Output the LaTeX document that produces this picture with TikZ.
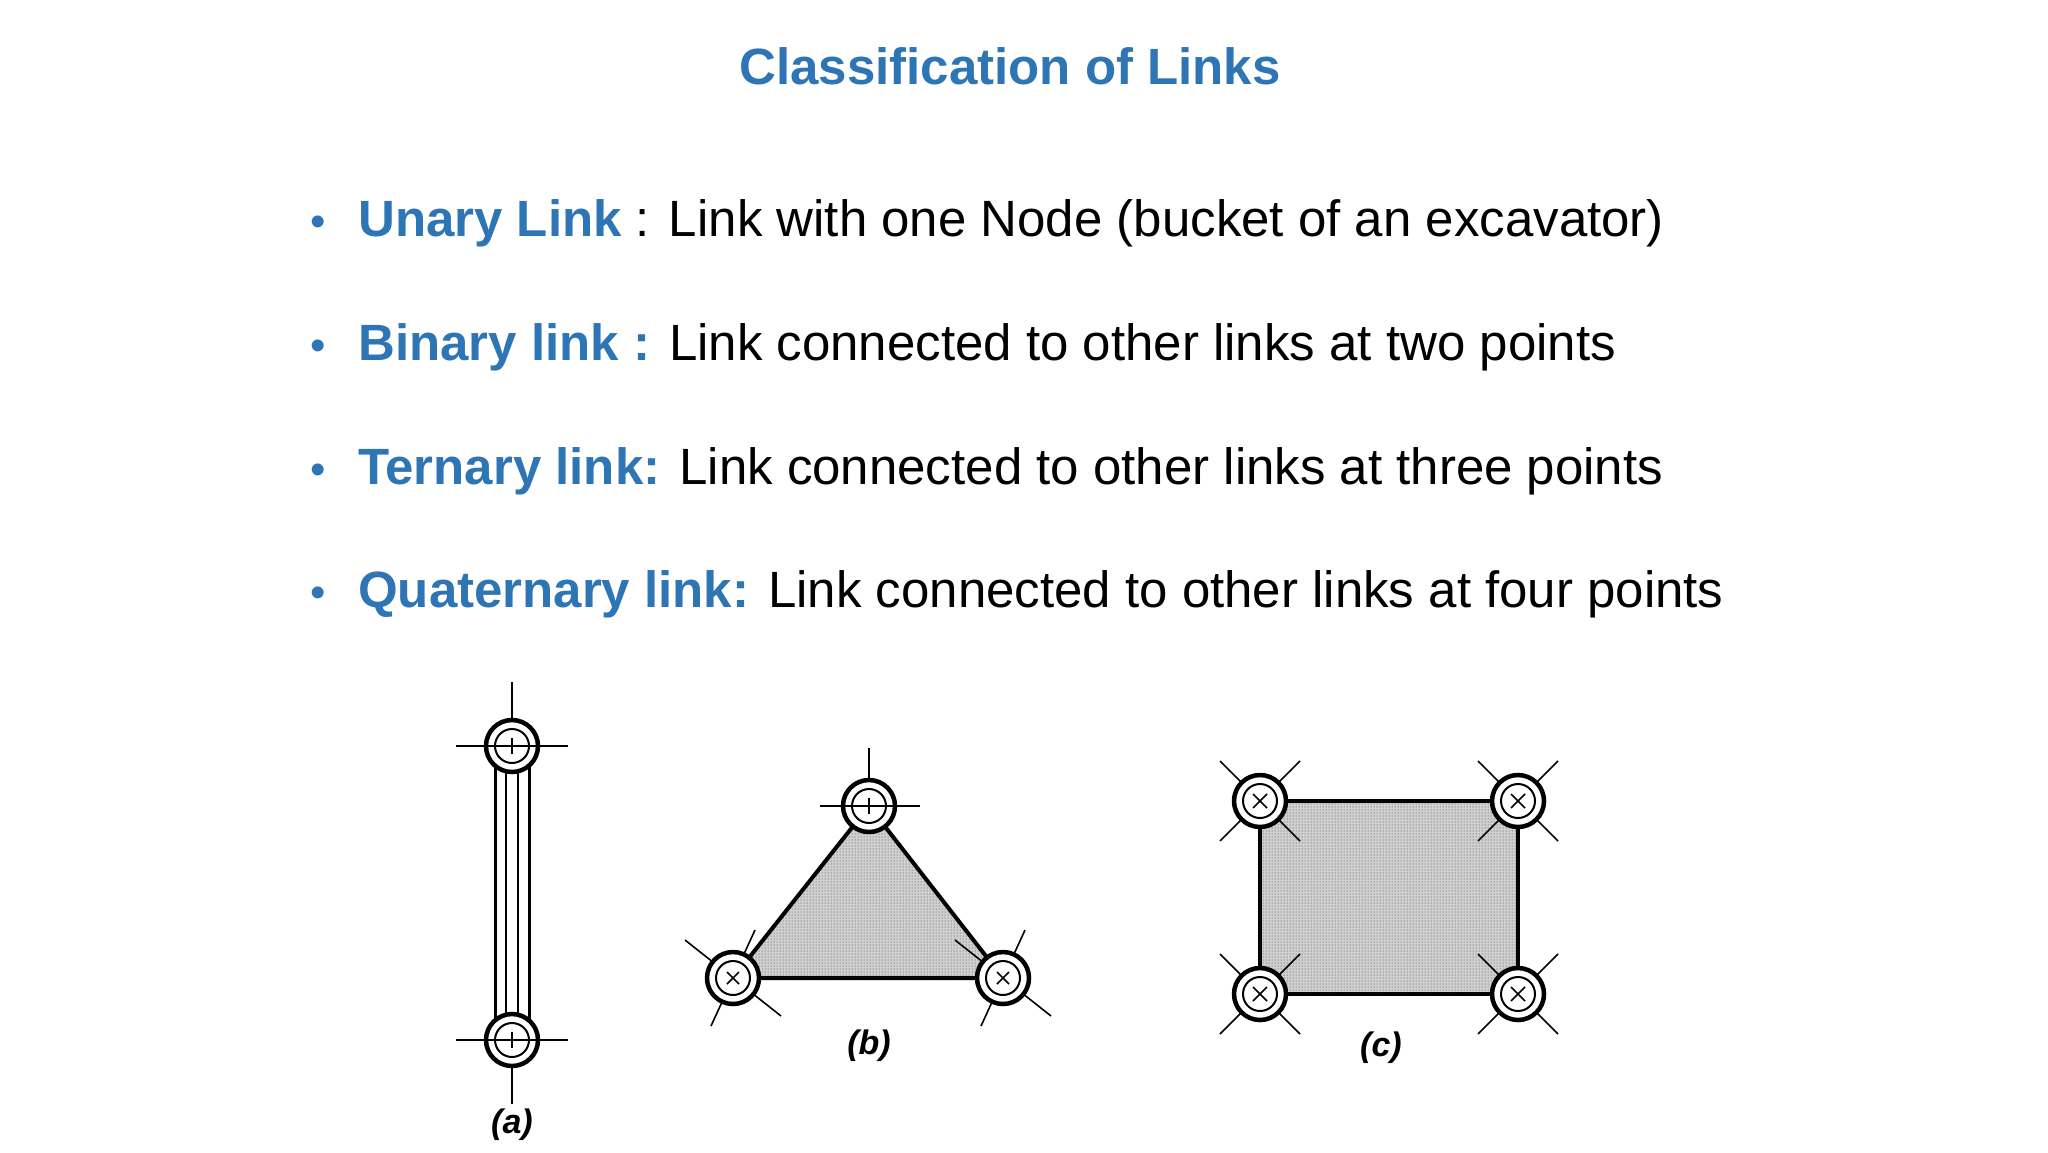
\documentclass[tikz,border=0pt]{standalone}
\usepackage{fontspec}
\setmainfont{Liberation Sans}
\usetikzlibrary{patterns,calc}
\definecolor{tblue}{HTML}{2E75B6}
\begin{document}
\begin{tikzpicture}[x=1pt,y=-1pt,
  joint/.style={draw=black,line width=4.5pt,fill=white,circle,minimum size=52pt,inner sep=0pt},
  jin/.style={draw=black,line width=2pt,circle,minimum size=34pt,inner sep=0pt},
  hair/.style={line width=1.6pt},
  bl/.style={anchor=base west,font=\fontsize{51}{55}\selectfont,inner sep=0pt},
  dot/.style={anchor=base,font=\fontsize{44}{44}\selectfont,text=tblue,inner sep=0pt},
  lab/.style={font=\fontsize{34}{36}\selectfont\bfseries\itshape}]
\useasboundingbox (0,0) rectangle (2048,1152);
\fill[white] (0,0) rectangle (2048,1152);
\node[font=\fontsize{51}{55}\selectfont\bfseries,text=tblue] (title) at (1010,66) {Classification of Links};
\foreach \y/\n in {236/1,360/2,484/3,607/4}{\node[dot] (d\n) at (318,\y) {•};}
\node[bl] (l1) at (358,236) {\textcolor{tblue}{\bfseries Unary Link} : Link with one Node (bucket of an excavator)};
\node[bl] (l2) at (358,360) {\textcolor{tblue}{\bfseries Binary link :} Link connected to other links at two points};
\node[bl] (l3) at (358,484) {\textcolor{tblue}{\bfseries Ternary link:} Link connected to other links at three points};
\node[bl] (l4) at (358,607) {\textcolor{tblue}{\bfseries Quaternary link:} Link connected to other links at four points};
% (a)
\draw[line width=3pt,fill=white] (495,746) rectangle (529,1040);
\draw[line width=1.4pt] (506,746) -- (506,1040) (518,746) -- (518,1040);
\foreach \p/\n in {{(512,746)}/a1,{(512,1040)}/a2}{
  \node[joint] (\n) at \p {}; \node[jin] at \p {};
  \draw[hair] ([xshift=-56pt]\n.center) -- ([xshift=56pt]\n.center) ([yshift=-8pt]\n.center) -- ([yshift=8pt]\n.center);}
\draw[hair] (a1.north) -- ++(0,-36); \draw[hair] (a2.south) -- ++(0,36);
\node[lab] (la) at (512,1125) {(a)};
% (b)
\coordinate (b1) at (869,806); \coordinate (b2) at (733,978); \coordinate (b3) at (1003,978);
\draw[line width=4pt,rounded corners=22pt,fill=black!18] (b1) -- (b3) -- (b2) -- cycle;
\fill[pattern=dots,pattern color=black!80,rounded corners=22pt] (b1) -- (b3) -- (b2) -- cycle;
\foreach \p in {b2,b3}{\draw[hair] ($(\p)+(-48,-38)$) -- ($(\p)+(48,38)$) ($(\p)+(-22,48)$) -- ($(\p)+(22,-48)$);}
\foreach \p in {b1,b2,b3}{\node[joint] (j\p) at (\p) {}; \node[jin] at (\p) {};}
\draw[hair] (jb1.north) -- ++(0,-30) (820,806) -- (920,806) (869,798) -- (869,814);
\foreach \p in {b2,b3}{\draw[hair] ($(\p)+(-6,-6)$) -- ($(\p)+(6,6)$) ($(\p)+(-6,6)$) -- ($(\p)+(6,-6)$);}
\node[lab] (lb) at (869,1046) {(b)};
% (c)
\coordinate (c1) at (1260,801); \coordinate (c2) at (1518,801); \coordinate (c3) at (1518,994); \coordinate (c4) at (1260,994);
\draw[line width=4pt,fill=black!18] (c1) rectangle (c3);
\fill[pattern=dots,pattern color=black!80] (c1) rectangle (c3);
\foreach \p in {c1,c2,c3,c4}{
  \draw[hair] ($(\p)+(-40,-40)$) -- ($(\p)+(40,40)$) ($(\p)+(-40,40)$) -- ($(\p)+(40,-40)$);
  \node[joint] (j\p) at (\p) {}; \node[jin] at (\p) {};
  \draw[hair] ($(\p)+(-7,-7)$) -- ($(\p)+(7,7)$) ($(\p)+(-7,7)$) -- ($(\p)+(7,-7)$);}
\node[lab] (lc) at (1381,1048) {(c)};
\end{tikzpicture}
\end{document}
